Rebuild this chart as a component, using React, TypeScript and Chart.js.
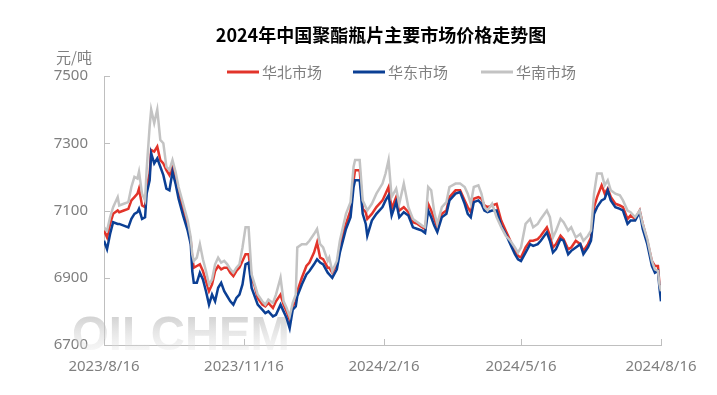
import React, { useEffect, useRef } from "react";
import { Chart, registerables } from "chart.js";

Chart.register(...registerables);

const TITLE = "2024年中国聚酯瓶片主要市场价格走势图";
const UNIT = "元/吨";
const WATERMARK = "OILCHEM";
const seriesNames = ["华北市场", "华东市场", "华南市场"];
const seriesColors = ["#E2342A", "#0B3F94", "#C3C3C3"];

const tickDates = ["2023-08-16", "2023-11-16", "2024-02-16", "2024-05-16", "2024-08-16"];
const tickLabels = ["2023/8/16", "2023/11/16", "2024/2/16", "2024/5/16", "2024/8/16"];
const yTicks = [6700, 6900, 7100, 7300, 7500];

const dates = [
  "2023-08-16", "2023-08-18", "2023-08-20", "2023-08-22", "2023-08-25", "2023-08-26", "2023-08-29", "2023-09-01", "2023-09-03", "2023-09-05",
  "2023-09-07", "2023-09-08", "2023-09-10", "2023-09-12", "2023-09-13", "2023-09-15", "2023-09-16", "2023-09-18", "2023-09-20", "2023-09-22",
  "2023-09-24", "2023-09-26", "2023-09-28", "2023-09-30", "2023-10-02", "2023-10-04", "2023-10-07", "2023-10-10", "2023-10-12", "2023-10-13",
  "2023-10-14", "2023-10-16", "2023-10-18", "2023-10-20", "2023-10-22", "2023-10-24", "2023-10-26", "2023-10-28", "2023-10-30", "2023-11-01",
  "2023-11-03", "2023-11-05", "2023-11-07", "2023-11-09", "2023-11-11", "2023-11-13", "2023-11-15", "2023-11-17", "2023-11-19", "2023-11-21",
  "2023-11-23", "2023-11-25", "2023-11-28", "2023-11-30", "2023-12-02", "2023-12-05", "2023-12-07", "2023-12-10", "2023-12-12", "2023-12-14",
  "2023-12-16", "2023-12-18", "2023-12-20", "2023-12-21", "2023-12-24", "2023-12-27", "2023-12-29", "2024-01-01", "2024-01-03", "2024-01-05",
  "2024-01-07", "2024-01-10", "2024-01-11", "2024-01-13", "2024-01-16", "2024-01-18", "2024-01-20", "2024-01-22", "2024-01-25", "2024-01-27",
  "2024-01-28", "2024-01-31", "2024-02-02", "2024-02-04", "2024-02-05", "2024-02-08", "2024-02-11", "2024-02-15", "2024-02-17", "2024-02-19",
  "2024-02-21", "2024-02-24", "2024-02-26", "2024-02-29", "2024-03-03", "2024-03-06", "2024-03-09", "2024-03-12", "2024-03-14", "2024-03-16",
  "2024-03-18", "2024-03-20", "2024-03-22", "2024-03-25", "2024-03-28", "2024-03-30", "2024-04-03", "2024-04-06", "2024-04-09", "2024-04-11",
  "2024-04-13", "2024-04-15", "2024-04-18", "2024-04-20", "2024-04-22", "2024-04-24", "2024-04-27", "2024-04-30", "2024-05-03", "2024-05-06",
  "2024-05-09", "2024-05-12", "2024-05-14", "2024-05-16", "2024-05-19", "2024-05-22", "2024-05-24", "2024-05-27", "2024-05-29", "2024-06-02",
  "2024-06-04", "2024-06-06", "2024-06-08", "2024-06-11", "2024-06-13", "2024-06-16", "2024-06-18", "2024-06-21", "2024-06-24", "2024-06-26",
  "2024-06-29", "2024-07-01", "2024-07-03", "2024-07-05", "2024-07-08", "2024-07-10", "2024-07-12", "2024-07-14", "2024-07-17", "2024-07-20",
  "2024-07-22", "2024-07-25", "2024-07-27", "2024-07-30", "2024-08-02", "2024-08-04", "2024-08-07", "2024-08-10", "2024-08-12", "2024-08-14",
  "2024-08-15", "2024-08-16",
];

// 华北市场
const north = [
  7040, 7020, 7060, 7090, 7100, 7095, 7100, 7105, 7130, 7140, 7150, 7165, 7115, 7110, 7170, 7210, 7280, 7275, 7290, 7250,
  7240, 7220, 7205, 7230, 7190, 7150, 7105, 7055, 7010, 6960, 6930, 6935, 6940, 6920, 6890, 6860, 6880, 6920, 6935, 6925,
  6930, 6930, 6915, 6905, 6920, 6930, 6950, 6970, 6970, 6900, 6875, 6840, 6820, 6815, 6825, 6810, 6830, 6850, 6820, 6800,
  6775, 6815, 6830, 6860, 6900, 6935, 6945, 6975, 7005, 6960, 6955, 6930, 6930, 6915, 6940, 6990, 7030, 7060, 7100, 7190,
  7220, 7220, 7105, 7095, 7075, 7090, 7110, 7130, 7150, 7170, 7105, 7140, 7100, 7110, 7095, 7065, 7060, 7050, 7045, 7120,
  7100, 7075, 7050, 7090, 7100, 7140, 7160, 7160, 7130, 7110, 7095, 7135, 7140, 7135, 7115, 7110, 7115, 7120, 7070, 7040,
  7010, 6980, 6965, 6960, 6990, 7010, 7010, 7015, 7025, 7050, 7025, 6990, 7000, 7025, 7015, 6985, 6990, 7010, 7000, 6980,
  7000, 7020, 7110, 7140, 7175, 7150, 7165, 7140, 7120, 7115, 7110, 7075, 7085, 7075, 7100, 7060, 7010, 6950, 6935, 6935,
  6880, 6870,
];

// 华东市场
const east = [
  7010, 6985, 7030, 7065, 7060, 7060, 7055, 7050, 7075, 7090, 7095, 7105, 7075, 7080, 7150, 7190, 7270, 7240, 7255, 7230,
  7205, 7165, 7160, 7215, 7180, 7135, 7085, 7040, 7000, 6920, 6885, 6885, 6915, 6895, 6860, 6820, 6850, 6830, 6870, 6885,
  6860, 6845, 6830, 6820, 6840, 6850, 6880, 6940, 6945, 6870, 6845, 6820, 6805, 6795, 6800, 6785, 6790, 6820, 6800, 6780,
  6750, 6805, 6815, 6845, 6880, 6910, 6920, 6940, 6955, 6945, 6940, 6915, 6910, 6900, 6925, 6975, 7010, 7045, 7080, 7170,
  7190, 7190, 7090, 7060, 7025, 7070, 7090, 7110, 7130, 7145, 7085, 7125, 7080, 7095, 7085, 7050, 7045, 7040, 7033, 7100,
  7080, 7055, 7036, 7080, 7090, 7130, 7150, 7155, 7120, 7090, 7080, 7125, 7130, 7120, 7100, 7095, 7100, 7100, 7055, 7030,
  7000, 6970, 6955, 6950, 6975, 7000, 6995, 7000, 7010, 7035, 7010, 6975, 6985, 7015, 7010, 6970, 6980, 6990, 7000, 6970,
  6990, 7010, 7090, 7110, 7130, 7135, 7160, 7130, 7110, 7105, 7100, 7060, 7070, 7070, 7095, 7045, 7000, 6935, 6915, 6920,
  6870, 6830,
];

// 华南市场
const south = [
  7050, 7040, 7080, 7110, 7140, 7115, 7120, 7125, 7170, 7200, 7195, 7215, 7150, 7130, 7220, 7350, 7400, 7360, 7400, 7310,
  7300, 7230, 7220, 7250, 7215, 7170, 7120, 7070, 7020, 6970, 6950, 6960, 7000, 6955, 6920, 6880, 6895, 6940, 6960, 6945,
  6950, 6940, 6925, 6915, 6930, 6940, 6990, 7050, 7050, 6910, 6880, 6850, 6830, 6820, 6835, 6825, 6850, 6900, 6830, 6810,
  6785, 6825, 6850, 6990, 7000, 7000, 7010, 7030, 7045, 7000, 6990, 6950, 6960, 6920, 6950, 7010, 7050, 7090, 7125, 7230,
  7250, 7250, 7130, 7110, 7100, 7120, 7150, 7180, 7210, 7250, 7140, 7165, 7120, 7180, 7110, 7075, 7065, 7055, 7050, 7170,
  7160, 7095, 7060, 7110, 7125, 7170, 7180, 7180, 7170, 7150, 7120, 7170, 7175, 7150, 7110, 7100, 7120, 7080, 7050, 7025,
  7010, 6990, 6975, 6990, 7060, 7075, 7050, 7060, 7075, 7100, 7080, 7020, 7040, 7075, 7065, 7040, 7050, 7020, 7030, 7010,
  7025, 7040, 7150, 7210, 7210, 7175, 7190, 7160, 7150, 7145, 7130, 7100, 7095, 7080, 7100, 7060, 7015, 6950, 6925, 6920,
  6880, 6860,
];

const DAY = 86400000;
const t0 = Date.parse(dates[0]);
const dayOf = (d: string) => Math.round((Date.parse(d) - t0) / DAY);
const tickDays = tickDates.map(dayOf);

const AXIS_COLOR = "#BFBFBF";
const TEXT_GRAY = "#7F7F7F";
const LABEL_FONT = { family: "'Noto Sans', 'DejaVu Sans', sans-serif", size: 15 };

const decorPlugin = {
  id: "decor",
  beforeDatasetsDraw(chart: any) {
    const ctx = chart.ctx as CanvasRenderingContext2D;
    ctx.save();
    ctx.font = "bold 49px 'Liberation Sans', Arial, sans-serif";
    const w = ctx.measureText(WATERMARK).width;
    ctx.translate(72, 350);
    ctx.scale(218 / w, 1);
    const g = ctx.createLinearGradient(0, -36, 0, 2);
    g.addColorStop(0, "rgba(175,175,175,0.6)");
    g.addColorStop(1, "rgba(230,230,230,0.3)");
    ctx.fillStyle = g;
    ctx.textBaseline = "alphabetic";
    ctx.fillText(WATERMARK, 0, 0);
    ctx.restore();
  },
  afterDraw(chart: any) {
    const ctx = chart.ctx as CanvasRenderingContext2D;
    const xs = chart.scales.x;
    const ys = chart.scales.y;
    const area = chart.chartArea;
    ctx.save();
    // inward tick marks
    ctx.strokeStyle = AXIS_COLOR;
    ctx.lineWidth = 1;
    ctx.beginPath();
    tickDays.forEach((d) => {
      const px = Math.round(xs.getPixelForValue(d)) + 0.5;
      ctx.moveTo(px, area.bottom);
      ctx.lineTo(px, area.bottom - 6);
    });
    yTicks.forEach((v) => {
      const py = Math.round(ys.getPixelForValue(v)) + 0.5;
      ctx.moveTo(area.left, py);
      ctx.lineTo(area.left + 6, py);
    });
    ctx.stroke();

    // title
    ctx.fillStyle = "#000000";
    ctx.font = "bold 18px 'Noto Sans CJK SC', sans-serif";
    ctx.textAlign = "center";
    ctx.textBaseline = "middle";
    ctx.fillText(TITLE, 381, 35);

    // unit
    ctx.fillStyle = TEXT_GRAY;
    ctx.font = "15px 'Noto Sans CJK SC', sans-serif";
    ctx.textAlign = "left";
    ctx.fillText(UNIT, 56, 57);

    // legend
    const legendX = [227, 353, 481];
    seriesNames.forEach((name, i) => {
      const x = legendX[i];
      ctx.strokeStyle = seriesColors[i];
      ctx.lineWidth = 3;
      ctx.beginPath();
      ctx.moveTo(x, 72);
      ctx.lineTo(x + 32, 72);
      ctx.stroke();
      ctx.fillStyle = TEXT_GRAY;
      ctx.font = "15px 'Noto Sans CJK SC', sans-serif";
      ctx.textAlign = "left";
      ctx.textBaseline = "middle";
      ctx.fillText(name, x + 35, 72);
    });
    ctx.restore();
  },
};

export default function App() {
  const canvasRef = useRef<HTMLCanvasElement | null>(null);

  useEffect(() => {
    document.body.style.margin = "0";
    const canvas = canvasRef.current;
    if (!canvas) return;
    const series = [north, east, south];
    const orders = [2, 1, 0];
    const chart = new Chart(canvas, {
      type: "line",
      data: {
        datasets: series.map((vals, i) => ({
          label: seriesNames[i],
          data: vals.map((v, j) => ({ x: dayOf(dates[j]), y: v })),
          borderColor: seriesColors[i],
          backgroundColor: seriesColors[i],
          borderWidth: 2.5,
          pointRadius: 0,
          tension: 0,
          order: orders[i],
        })),
      },
      options: {
        responsive: false,
        animation: false,
        devicePixelRatio: 1,
        layout: { padding: { top: 76, right: 56, left: 0, bottom: 0 } },
        plugins: {
          legend: { display: false },
          title: { display: false },
          tooltip: { enabled: false },
        },
        scales: {
          x: {
            type: "linear",
            min: tickDays[0],
            max: tickDays[tickDays.length - 1],
            grid: { display: false, drawTicks: false },
            border: { display: true, color: AXIS_COLOR, width: 1 },
            afterBuildTicks: (s: any) => {
              s.ticks = tickDays.map((v) => ({ value: v }));
            },
            afterFit: (s: any) => {
              s.height = 50;
            },
            ticks: {
              autoSkip: false,
              maxRotation: 0,
              minRotation: 0,
              color: TEXT_GRAY,
              font: LABEL_FONT,
              padding: 13,
              callback: (v: any) => {
                const k = tickDays.indexOf(Number(v));
                return k >= 0 ? tickLabels[k] : "";
              },
            },
          },
          y: {
            min: yTicks[0],
            max: yTicks[yTicks.length - 1],
            grid: { display: false, drawTicks: false },
            border: { display: true, color: AXIS_COLOR, width: 1 },
            afterBuildTicks: (s: any) => {
              s.ticks = yTicks.map((v) => ({ value: v }));
            },
            afterFit: (s: any) => {
              s.width = 104;
            },
            ticks: {
              color: TEXT_GRAY,
              font: LABEL_FONT,
              padding: 16,
              callback: (v: any) => String(v),
            },
          },
        },
      },
      plugins: [decorPlugin],
    } as any);
    return () => chart.destroy();
  }, []);

  return (
    <canvas ref={canvasRef} width={717} height={395} style={{ display: "block" }} />
  );
}
